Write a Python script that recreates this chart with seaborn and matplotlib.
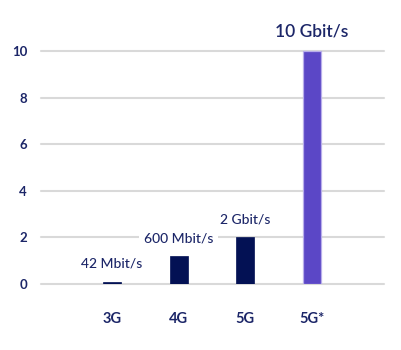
import matplotlib
matplotlib.use("Agg")
import matplotlib.pyplot as plt
import seaborn as sns
import pandas as pd

# Peak download rates per mobile generation
generations = ["3G", "4G", "5G", "5G*"]
heights = [0.1, 1.2, 2.0, 10.0]
rate_labels = ["42 Mbit/s", "600 Mbit/s", "2 Gbit/s", "10 Gbit/s"]
y_ticks = [0, 2, 4, 6, 8, 10]

navy = "#031154"
purple = "#5b47c6"
text_col = "#1c2668"
grid_col = "#d9d9d9"

sns.set_theme(style="white")
plt.rcParams["font.family"] = ["Lato", "DejaVu Sans"]

df = pd.DataFrame({"gen": generations, "rate": heights})

fig = plt.figure(figsize=(4.02, 3.5), dpi=100)
ax = fig.add_axes([41 / 402, (350 - 284) / 350, (384 - 41) / 402, (284 - 46.3) / 350])

palette = [navy, navy, navy, purple]
sns.barplot(data=df, x="gen", y="rate", hue="gen", palette=palette,
            saturation=1, legend=False, width=0.27, ax=ax, zorder=3)
for patch, gen in zip(ax.patches, generations):
    if gen == "5G*":
        patch.set_edgecolor("#b8aeea")
        patch.set_linewidth(0.9)
    else:
        patch.set_edgecolor(navy)
        patch.set_linewidth(0.5)

ax.set_xlim(-1.065, 4.08)
ax.set_ylim(0, 10.2)
ax.set_yticks(y_ticks)
for t in y_ticks:
    ax.axhline(t, color=grid_col, lw=1.5, zorder=1, clip_on=False)

for sp in ax.spines.values():
    sp.set_visible(False)
ax.set_xlabel("")
ax.set_ylabel("")
ax.tick_params(axis="y", length=0, pad=10, labelsize=9.5, labelcolor=text_col)
ax.tick_params(axis="x", length=0, pad=20, labelsize=10.5, labelcolor=text_col)
for lab in ax.get_yticklabels() + ax.get_xticklabels():
    lab.set_fontweight("bold")

for i, (h, lab) in enumerate(zip(heights, rate_labels)):
    big = i == len(heights) - 1
    kw = {}
    if lab == "600 Mbit/s":
        kw["bbox"] = dict(boxstyle="square,pad=0.35", fc="white", ec="none")
    ax.annotate(lab, xy=(i, h), xytext=(0, 19 if big else 18),
                textcoords="offset pixels",
                ha="center", va="center", color=text_col,
                fontsize=12.5 if big else 10,
                fontweight="semibold" if big else "medium",
                zorder=4, **kw)

fig.savefig("out.png", dpi=100)
